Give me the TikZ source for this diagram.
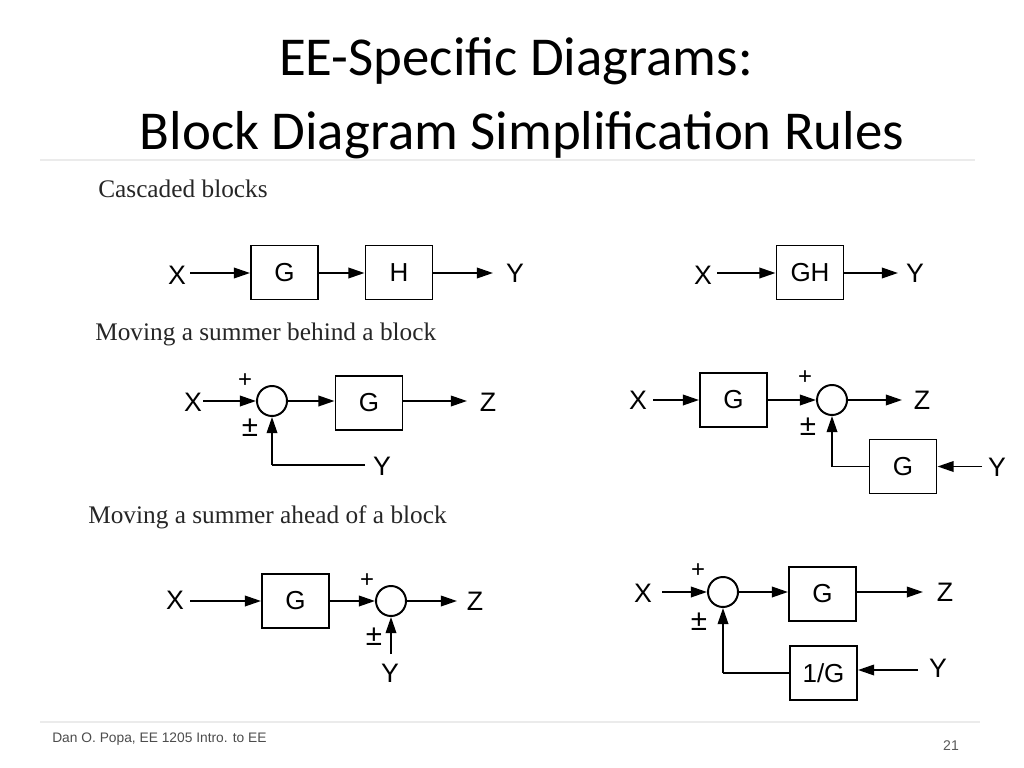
\documentclass[tikz,border=0pt]{standalone}
\usepackage{fontspec}
\setmainfont{Liberation Serif}
\newfontfamily\arialf{Liberation Sans}
\newfontfamily\calib{Carlito}
\usetikzlibrary{arrows.meta,calc}
\begin{document}
\begin{tikzpicture}[x=0.025cm,y=-0.025cm,
  blk/.style={draw,line width=1.4pt,minimum width=67*0.025cm,minimum height=54*0.025cm,inner sep=0pt,font=\arialf\fontsize{18.5}{18.5}\selectfont},
  sum/.style={draw,circle,line width=1.4pt,minimum size=30*0.025cm,inner sep=0pt},
  lbl/.style={font=\arialf\fontsize{19}{19}\selectfont,inner sep=0pt},
  sgn/.style={font=\arialf\fontsize{17}{17}\selectfont,inner sep=0pt},
  pmsgn/.style={font=\arialf\fontsize{21}{21}\selectfont,inner sep=0pt},
  sect/.style={font=\fontsize{18}{18}\selectfont,text=black!85,anchor=base west,inner sep=0pt},
  sig/.style={line width=1.4pt,-{Triangle[length=11.5pt,width=7.5pt]}},
  wire/.style={line width=1.4pt}]
\useasboundingbox (0,0) rectangle (1024,768);
% title
\node[font=\calib\fontsize{39}{39}\selectfont,anchor=base,inner sep=0pt] (t1) at (516,76) {EE-Specific Diagrams:};
\node[font=\calib\fontsize{39}{39}\selectfont,anchor=base,inner sep=0pt] (t2) at (522,150) {Block Diagram Simplification Rules};
\draw[black!8,line width=1pt] (40,160) -- (975,160);
\draw[black!8,line width=1pt] (40,722) -- (980,722);
\node[font=\arialf\fontsize{9.8}{9.8}\selectfont,text=black!70,anchor=base west,inner sep=0pt] (foot) at (52,742) {Dan O. Popa, EE 1205 Intro. to EE};
\node[font=\arialf\fontsize{10}{10}\selectfont,text=black!65,anchor=base,inner sep=0pt] (pg) at (951,750) {21};

% section labels
\node[sect] (s1) at (98,197) {Cascaded blocks};
\node[sect] (s2) at (95,340) {Moving a summer behind a block};
\node[sect] (s3) at (88,523) {Moving a summer ahead of a block};

% diagram 1
\node[lbl] (x1) at (177,275) {X};
\node[blk] (g1) at (284.5,272.5) {G};
\node[blk] (h1) at (399,272.5) {H};
\node[lbl] (y1) at (515,273) {Y};
\draw[sig] (190,273) -- (g1.west |- 0,273);
\draw[sig] (g1.east |- 0,273) -- (h1.west |- 0,273);
\draw[sig] (h1.east |- 0,273) -- (493,273);

% diagram 2
\node[lbl] (x2) at (703,275) {X};
\node[blk] (gh) at (810,272.5) {GH};
\node[lbl] (y2) at (915,273) {Y};
\draw[sig] (717,273) -- (gh.west |- 0,273);
\draw[sig] (gh.east |- 0,273) -- (898,273);

% diagram 3
\node[lbl] (x3) at (193,402) {X};
\node[sum] (s3c) at (272,401) {};
\node[blk] (g3) at (369,403) {G};
\node[lbl] (z3) at (488,402) {Z};
\node[lbl] (y3) at (382,466) {Y};
\node[sgn] (p3) at (245,381) {+};
\node[pmsgn] (pm3) at (250,428) {±};
\coordinate (c3) at (365,465);
\draw[sig] (203,401) -- (s3c.west);
\draw[sig] (s3c.east) -- (s3c.east -| g3.west);
\draw[sig] (s3c.east -| g3.east) -- (467,401);
\draw[wire] (c3) -- (c3 -| s3c.south) coordinate (k3);
\draw[sig] (k3) -- (s3c.south);

% diagram 4
\node[lbl] (x4) at (638,400) {X};
\node[blk] (g4a) at (733.5,400) {G};
\node[sum] (s4c) at (832,400) {};
\node[lbl] (z4) at (922,400) {Z};
\node[blk] (g4b) at (903,466.5) {G};
\node[lbl] (y4) at (997,467) {Y};
\node[sgn] (p4) at (805,378) {+};
\node[pmsgn] (pm4) at (808,427) {±};
\draw[sig] (653,400) -- (g4a.west);
\draw[sig] (g4a.east) -- (s4c.west);
\draw[sig] (s4c.east) -- (902,400);
\draw[sig] (982,466.5) -- (g4b.east);
\draw[wire] (g4b.west) -- (g4b.west -| s4c.south) coordinate (k4);
\draw[sig] (k4) -- (s4c.south);

% diagram 5
\node[lbl] (x5) at (175,600) {X};
\node[blk] (g5) at (295.5,601) {G};
\node[sum] (s5c) at (391,601) {};
\node[lbl] (z5) at (475,601) {Z};
\node[lbl] (y5) at (390,673) {Y};
\node[sgn] (p5) at (367,581) {+};
\node[pmsgn] (pm5) at (374,637) {±};
\draw[sig] (190,601) -- (g5.west);
\draw[sig] (g5.east) -- (s5c.west);
\draw[sig] (s5c.east) -- (457,601);
\draw[sig] (391,654) -- (s5c.south);

% diagram 6
\node[lbl] (x6) at (643,593) {X};
\node[sum] (s6c) at (723,592) {};
\node[blk] (g6) at (822.5,594) {G};
\node[lbl] (z6) at (945,592) {Z};
\node[blk] (ig) at (823.5,673) {1/G};
\node[lbl] (y6) at (938,668) {Y};
\node[sgn] (p6) at (698,571) {+};
\node[pmsgn] (pm6) at (699,622) {±};
\draw[sig] (662,592) -- (s6c.west);
\draw[sig] (s6c.east) -- (s6c.east -| g6.west);
\draw[sig] (s6c.east -| g6.east) -- (923,592);
\draw[sig] (918,670) -- (918,670 -| ig.east);
\draw[wire] (ig.west) -- (ig.west -| s6c.south) coordinate (k6);
\draw[sig] (k6) -- (s6c.south);
\end{tikzpicture}
\end{document}
